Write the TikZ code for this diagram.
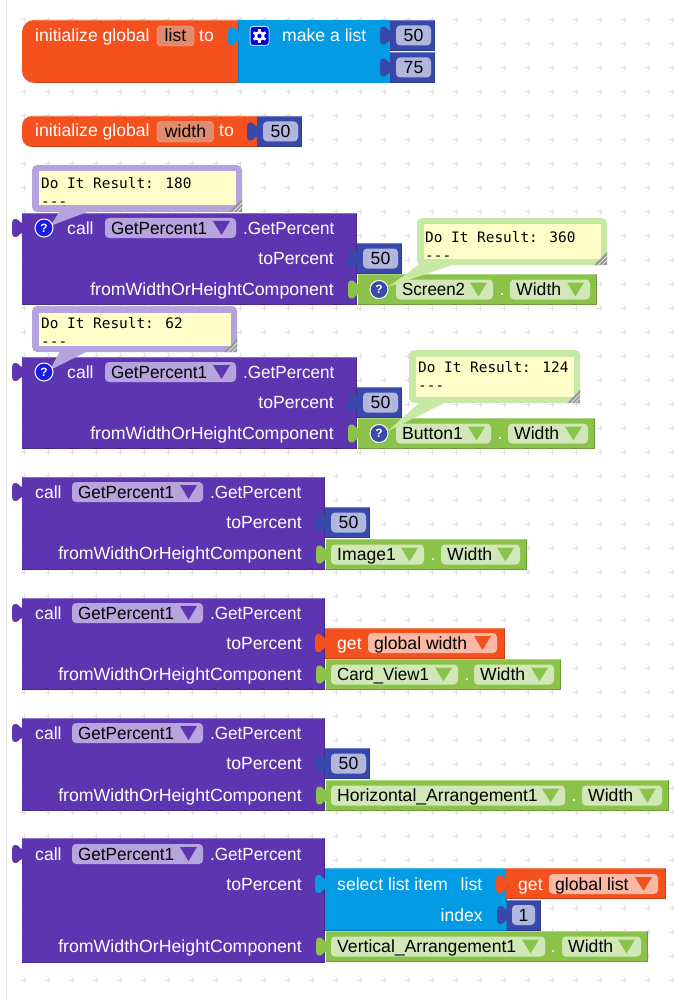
\documentclass[tikz,border=0pt]{standalone}
\usepackage{fontspec}
\setmainfont{Liberation Sans}
\newfontfamily\monof{DejaVu Sans Mono}
\definecolor{org}{HTML}{F5511E}
\definecolor{blu}{HTML}{049BE5}
\definecolor{nav}{HTML}{3949AB}
\definecolor{pur}{HTML}{5E35B1}
\definecolor{grn}{HTML}{8BC34A}
\definecolor{fnav}{HTML}{B0B6DC}
\definecolor{fpur}{HTML}{B7A3DD}
\definecolor{fgrn}{HTML}{D1E7B7}
\definecolor{forg}{HTML}{FBB9A5}
\definecolor{forgd}{HTML}{E08C6E}
\definecolor{lpur}{HTML}{B5A3E0}
\definecolor{lgrn}{HTML}{C8E9A6}
\definecolor{yel}{HTML}{FFFEC9}
\definecolor{helpb}{HTML}{1A1AE6}
\newcounter{nn}
\tikzset{
 blocktext/.style={anchor=base west,inner sep=0pt,text=white,font=\fontsize{17.6}{20}\selectfont},
 blocktextr/.style={blocktext,anchor=base east},
 fieldtext/.style={blocktext,text=black},
 monotext/.style={anchor=base west,inner sep=0pt,text=black,font=\monof\fontsize{14.4}{16}\selectfont},
 gridplus/.style={draw=black!12,line width=1pt},
}
\newcommand\blk[5]{%
 \fill[#5] (#1,#2) rectangle (#3,#4);
 \draw[white,opacity=.3,line width=1pt] (#1,#2+.5) -- (#3,#2+.5);
 \draw[black,opacity=.2,line width=1pt] (#1,#4-.5) -- (#3-.5,#4-.5) -- (#3-.5,#2);
}
\newcommand\tabk[3]{%
 \fill[#3] (#1+1,#2-5) .. controls (#1-3,#2-5) and (#1-3,#2-9) .. (#1-6,#2-9)
  .. controls (#1-10,#2-9) and (#1-10,#2-7) .. (#1-10,#2)
  .. controls (#1-10,#2+7) and (#1-10,#2+9) .. (#1-6,#2+9)
  .. controls (#1-3,#2+9) and (#1-3,#2+5) .. (#1+1,#2+5) -- cycle;
}
\newcommand\lbl[3]{\stepcounter{nn}\node[blocktext] (n\arabic{nn}) at (#1,#2+6) {#3};}
\newcommand\rlbl[3]{\stepcounter{nn}\node[blocktextr] (n\arabic{nn}) at (#1,#2+6) {#3};}
\newcommand\fld[6]{%
 \fill[#4,rounded corners=4pt] (#1,#3-10) rectangle (#2,#3+10);
 \fill[#5] (#2-23,#3-7) -- (#2-6,#3-7) -- (#2-14.5,#3+7) -- cycle;
 \stepcounter{nn}\node[fieldtext] (n\arabic{nn}) at (#1+6,#3+6) {#6};
}
\newcommand\numblk[4]{%
 \blk{#1}{#2-15.5}{#1+#3}{#2+15.5}{nav}
 \tabk{#1}{#2}{nav}
 \fill[fnav,rounded corners=4pt] (#1+6,#2-10) rectangle (#1+#3-4,#2+10);
 \stepcounter{nn}\node[fieldtext,anchor=base] (n\arabic{nn}) at (#1+#3/2+1,#2+6) {#4};
}
\newcommand\compblk[8]{%
 \blk{#1}{#3-15.5}{#2}{#3+15.5}{grn}
 \tabk{#1}{#3}{grn}
 \fld{#4}{#5}{#3}{fgrn}{grn}{#6}
 \stepcounter{nn}\node[blocktext,text=white,anchor=base] (n\arabic{nn}) at (#7,#3+6) {.};
 \fld{#8}{#2-7}{#3}{fgrn}{grn}{Width}
}
\newcommand\helpic[3]{%
 \stepcounter{nn}
 \node[circle,draw=white,line width=1pt,fill=#3,text=white,inner sep=0pt,minimum size=18pt,font=\bfseries\fontsize{12}{12}\selectfont] (n\arabic{nn}) at (#1,#2) {?};
}
\newcommand\bubble[9]{%
 \fill[#5] (#6,#4-1) -- (#7,#4-1) -- (#8,#9) -- cycle;
 \fill[#5,rounded corners=5pt] (#1,#2) rectangle (#3,#4);
 \fill[yel] (#1+6.5,#2+6.5) rectangle (#3-6.5,#4-6.5);
 \fill[black!40] (#3,#4) -- (#3-13,#4) -- (#3,#4-13) -- cycle;
 \draw[white,opacity=.7,line width=.8pt] (#3-9,#4) -- (#3,#4-9) (#3-5,#4) -- (#3,#4-5);
}
\newcommand\mono[3]{\stepcounter{nn}\node[monotext] (n\arabic{nn}) at (#1,#2) {#3};}
\newcommand\callblk[9]{%
 \blk{#1}{#3}{#2}{#4}{pur}
 \tabk{#1}{#5}{pur}
 \rlbl{#2-23}{#6}{toPercent}
 \rlbl{#2-23}{#7}{\scalebox{1.008}[1]{fromWidthOrHeightComponent}}
 \lbl{#9}{#5}{call}
 \fld{#8}{#8+131}{#5}{fpur}{pur}{\scalebox{.97}[1]{GetPercent1}}
 \lbl{#8+138}{#5}{\scalebox{.97}[1]{.GetPercent}}
}
\begin{document}
\begin{tikzpicture}[x=1pt,y=-1pt]
\useasboundingbox (0,0) rectangle (696,1000);
\fill[white] (0,0) rectangle (696,1000);
\draw[black!10,line width=1.2pt] (6.5,0) -- (6.5,1000);
\foreach \i in {1,...,28}{\foreach \j in {0,...,40}{
 \draw[gridplus] (24*\i-3,20+24*\j) -- (24*\i+3,20+24*\j) (24*\i,17+24*\j) -- (24*\i,23+24*\j);
}}
% --- initialize list
\fill[org,rounded corners=12pt] (22,20) -- (250,20) -- (250,83) -- (22,83) -- cycle;
\fill[blu] (238,20) rectangle (390,83);
\draw[white,opacity=.25,line width=1pt] (34,20.5) -- (238,20.5);
\draw[black,opacity=.2,line width=1pt] (238,82.5) -- (36,82.5);
\draw[black,opacity=.2,line width=1pt] (238.5,21) -- (238.5,83);
\tabk{238}{36}{blu}
\lbl{35}{36}{initialize global}
\fill[forgd,draw=forg,rounded corners=4pt] (157,26) rectangle (194,46);
\stepcounter{nn}\node[fieldtext,anchor=base] (n\arabic{nn}) at (175.5,42) {list};
\lbl{199}{36}{to}
\node[rounded corners=3pt,fill=blue!90!black,draw=white!70!blu,line width=1pt,minimum size=19pt,inner sep=0pt] (gear) at (259.5,36) {};
\fill[white] (gear.center) circle (5pt);
\foreach \a in {0,60,...,300}{\draw[white,line width=2.6pt] (gear.center) -- ++(\a+30:7pt);}
\fill[blue!90!black] (gear.center) circle (2.2pt);
\lbl{282}{36}{make a list}
\numblk{390}{35.5}{45}{50}
\numblk{390}{67.5}{45}{75}
% --- initialize width
\fill[org,rounded corners=10pt] (22,116) -- (270,116) -- (270,147) -- (22,147) -- cycle;
\draw[white,opacity=.25,line width=1pt] (32,116.5) -- (257,116.5);
\draw[black,opacity=.2,line width=1pt] (32,146.5) -- (257,146.5);
\lbl{35}{131}{initialize global}
\fill[forgd,draw=forg,rounded corners=4pt] (157,121.5) rectangle (213.5,142);
\stepcounter{nn}\node[fieldtext,anchor=base] (n\arabic{nn}) at (185.5,138) {width};
\lbl{219}{131}{to}
\numblk{257}{131.5}{45}{50}
% --- call 1
\callblk{22}{357}{213}{305}{228}{258}{289}{105}{67}
\bubble{32}{165}{242}{212}{lpur}{60}{90}{50}{226}
\mono{41}{189}{Do It Result: 180}
\mono{41}{207}{-{}-{}-}
\helpic{44}{228}{helpb}
\numblk{357}{258.5}{45}{50}
\compblk{358}{597}{289.5}{396}{493}{\scalebox{.96}[1]{Screen2}}{502}{510}
\bubble{417}{218}{607}{265}{lgrn}{420}{455}{388}{287}
\mono{425}{242}{Do It Result: 360}
\mono{425}{260}{-{}-{}-}
\helpic{379}{289.5}{nav}
% --- call 2
\callblk{22}{357}{357}{449}{372}{402}{433}{105}{67}
\bubble{32}{306}{237}{352}{lpur}{60}{88}{50}{370}
\mono{41}{328}{Do It Result: 62}
\mono{41}{346}{-{}-{}-}
\helpic{44}{372}{helpb}
\numblk{357}{402.5}{45}{50}
\compblk{358}{595}{433.5}{396}{491}{Button1}{500}{508}
\bubble{409}{350}{580}{403}{lgrn}{420}{446}{388}{431}
\mono{418}{372}{Do It Result: 124}
\mono{418}{390}{-{}-{}-}
\helpic{379}{433.5}{nav}
% --- call 3
\callblk{22}{325}{477}{570}{492}{522}{553}{72}{35}
\numblk{325}{522.5}{45}{50}
\compblk{326}{527}{554.5}{331}{424}{Image1}{433}{441}
% --- call 4
\callblk{22}{325}{598}{690}{613}{643}{674}{72}{35}
\blk{325}{628}{505}{659}{org}
\tabk{325}{643}{org}
\lbl{337}{643}{get}
\fld{368}{497}{643}{forg}{org}{global width}
\compblk{326}{561}{674.5}{331}{458}{\scalebox{.96}[1]{Card\_View1}}{467}{474}
% --- call 5
\callblk{22}{325}{718}{811}{733}{763}{795}{72}{35}
\numblk{325}{763.5}{45}{50}
\compblk{326}{669}{795.5}{331}{565}{Horizontal\_Arrangement1}{574}{582}
% --- call 6
\callblk{22}{325}{838}{963}{854}{884}{946}{72}{35}
\blk{325}{868}{507}{931}{blu}
\tabk{325}{884}{blu}
\lbl{337}{884}{select list item\hspace{13pt}list}
\rlbl{483}{915}{index}
\blk{506}{868}{666}{899}{org}
\tabk{506}{884}{org}
\lbl{518}{884}{get}
\fld{549}{658}{884}{forg}{org}{global list}
\blk{507}{900}{541}{931}{nav}
\tabk{507}{915}{nav}
\fill[fnav,rounded corners=4pt] (512,905) rectangle (535,925);
\stepcounter{nn}\node[fieldtext,anchor=base] (n\arabic{nn}) at (523.5,921) {1};
\compblk{326}{648}{946.5}{331}{545}{Vertical\_Arrangement1}{553}{562}
\end{tikzpicture}
\end{document}
